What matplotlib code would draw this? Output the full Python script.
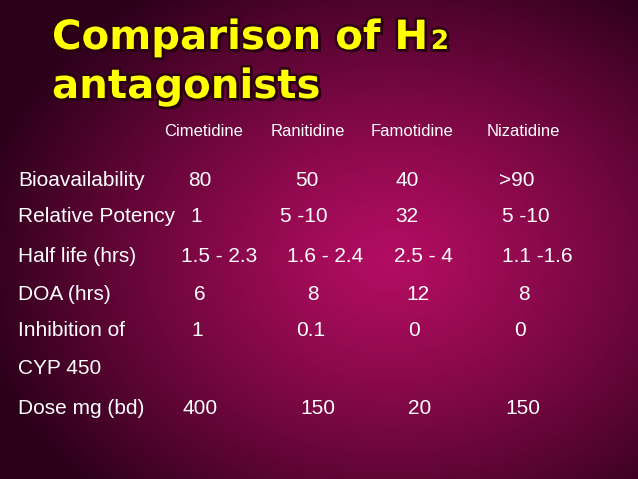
import numpy as np
import matplotlib.pyplot as plt
import matplotlib.patheffects as pe

W, H = 638, 479

title_main = 'Comparison of H'
title_sub = '2'
title_line2 = 'antagonists'
drugs = ['Cimetidine', 'Ranitidine', 'Famotidine', 'Nizatidine']
row_labels = ['Bioavailability', 'Relative Potency', 'Half life (hrs)', 'DOA (hrs)',
              'Inhibition of', 'CYP 450', 'Dose mg (bd)']
cells = [
    ['80', '50', '40', '>90'],
    ['1', '5 -10', '32', '5 -10'],
    ['1.5 - 2.3', '1.6 - 2.4', '2.5 - 4', '1.1 -1.6'],
    ['6', '8', '12', '8'],
    ['1', '0.1', '0', '0'],
    ['', '', '', ''],
    ['400', '150', '20', '150'],
]

# layout (pixels)
head_x = [204, 308, 412, 523]
row_y = [180, 217, 256, 294, 331, 369, 408]
cell_x = [
    [200, 307, 407, 517],
    [196, 304, 407, 526],
    [219, 325, 423, 537],
    [200, 313, 418, 524],
    [197, 311, 414, 520],
    [0, 0, 0, 0],
    [200, 318, 420, 523],
]

fig = plt.figure(figsize=(W / 100, H / 100), dpi=100)
ax = fig.add_axes([0, 0, 1, 1])
ax.set_xlim(0, W)
ax.set_ylim(H, 0)
ax.axis('off')

# radial magenta background
yy, xx = np.mgrid[0:H, 0:W]
r = np.sqrt(((xx - 390) / 420) ** 2 + ((yy - 260) / 330) ** 2)
t = np.clip(r, 0, 1) ** 1.2
inner = np.array([0.70, 0.05, 0.38])
outer = np.array([0.17, 0.0, 0.10])
img = inner[None, None, :] * (1 - t[..., None]) + outer[None, None, :] * t[..., None]
ax.imshow(img, extent=[0, W, H, 0], aspect='auto', zorder=0)

shadow = [pe.withSimplePatchShadow(offset=(2, -2), shadow_rgbFace='#1a0008', alpha=0.9),
          pe.withStroke(linewidth=3.5, foreground='#2a0010')]
tkw = dict(fontweight='heavy', family='DejaVu Sans', color='#ffff00',
           va='baseline', ha='left', path_effects=shadow)
t1 = ax.text(52, 49, title_main, fontsize=29, **tkw)
fig.canvas.draw()
bb = t1.get_window_extent()
ax.text(bb.x1 + 3, 49, title_sub, fontsize=19, **tkw)
ax.text(52, 98, title_line2, fontsize=29, **tkw)

for x, d in zip(head_x, drugs):
    ax.text(x, 132, d, fontsize=12, color='white', ha='center', va='center',
            family='Liberation Sans')

for y, lab, vals, xs in zip(row_y, row_labels, cells, cell_x):
    ax.text(18, y, lab, fontsize=15, color='white', ha='left', va='center',
            family='Liberation Sans')
    for x, v in zip(xs, vals):
        if v:
            ax.text(x, y, v, fontsize=15, color='white', ha='center', va='center',
                    family='Liberation Sans')

fig.savefig('out.png', dpi=100)
